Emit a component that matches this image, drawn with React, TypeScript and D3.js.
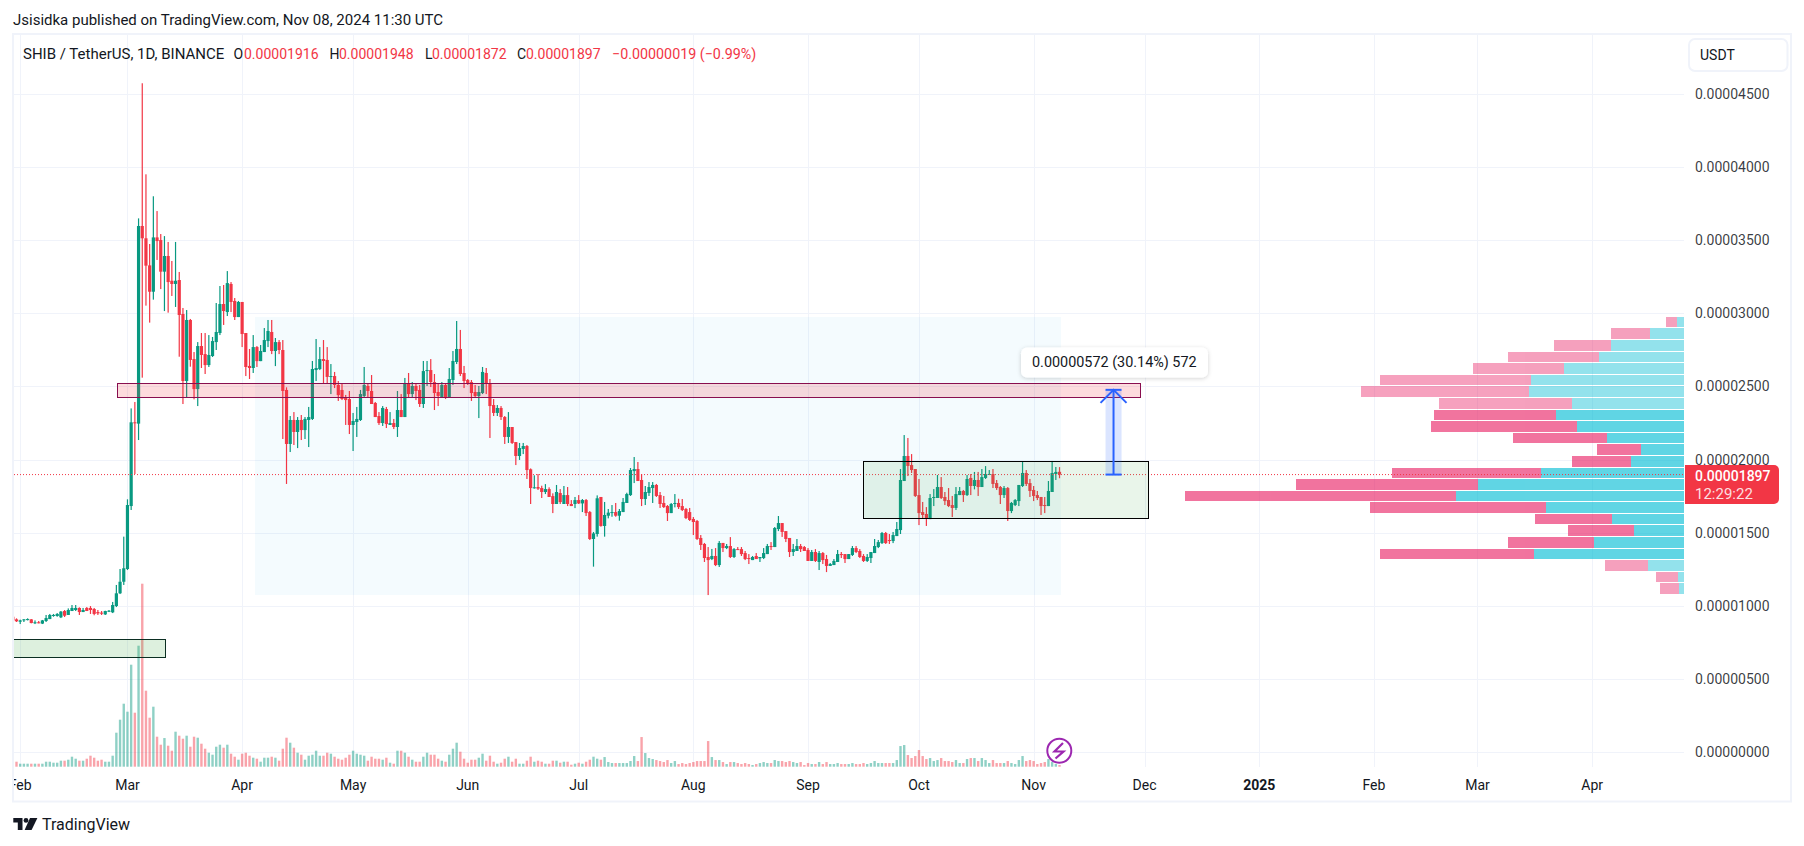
/**
 * SHIB / TetherUS daily chart with volume and a fixed range volume profile.
 * Prices are in units of 0.00000001 USDT.
 */
import * as d3 from "d3";

// ── Data ──────────────────────────────────────────────────────────────────────

// first candle is 30 Jan 2024, one per day up to 8 Nov 2024
const opens = [
  926,908,892,906,906,908,885,888,879,897,910,931,931,922,965,938,965,972,986,958,986,986,979,958,954,942,961,956,999,1086,
  1165,1252,1682,2254,2245,3595,3511,3326,3146,3517,3499,3283,3390,3221,3199,3226,2994,2536,2953,2686,2481,2775,2720,2645,2707,2802,2864,3062,3007,3199,
  3083,2973,3076,2864,2639,2625,2768,2672,2734,2809,2871,2741,2802,2748,2475,2106,2270,2188,2270,2201,2270,2277,2611,2618,2686,2680,2564,2570,2509,2475,
  2427,2413,2236,2256,2270,2434,2502,2468,2386,2297,2249,2345,2236,2249,2222,2338,2290,2516,2447,2502,2475,2379,2604,2611,2529,2461,2427,2509,2427,2543,
  2666,2755,2591,2543,2529,2461,2434,2454,2591,2522,2372,2318,2352,2290,2154,2222,2119,2024,2072,2092,1933,1805,1812,1805,1778,1798,1750,1696,1771,1696,
  1757,1696,1696,1723,1700,1723,1641,1457,1491,1744,1546,1616,1637,1641,1616,1641,1703,1757,1921,1935,1860,1730,1771,1805,1826,1757,1703,1682,1634,1696,
  1703,1682,1662,1641,1594,1580,1464,1423,1334,1320,1341,1279,1430,1395,1409,1334,1388,1388,1361,1327,1313,1341,1325,1327,1354,1409,1402,1525,1566,1511,
  1464,1368,1375,1409,1402,1382,1307,1368,1300,1361,1320,1273,1279,1300,1354,1354,1320,1348,1395,1375,1341,1307,1327,1361,1402,1429,1498,1450,1443,1477,
  1518,1853,2024,1962,1935,1757,1641,1628,1593,1737,1737,1812,1744,1723,1689,1669,1757,1785,1757,1874,1819,1860,1812,1874,1896,1901,1839,1812,1757,1805,
  1648,1689,1716,1819,1908,1839,1792,1757,1744,1689,1682,1778,1901,1916,
];
const highs = [
  945,915,906,910,915,910,901,897,904,938,945,945,951,965,972,983,1006,1006,990,986,992,999,986,972,965,967,972,1027,1143,1252,
  1473,1728,2349,2393,3647,4570,3948,3472,3798,3697,3540,3526,3486,3356,3486,3281,3035,3021,2960,2734,2802,2864,2864,2850,2837,3069,3185,3192,3287,3212,
  3103,3083,3076,2864,2755,2850,2775,2782,2898,2953,2953,2830,2816,2816,2493,2297,2324,2290,2304,2290,2359,2673,2823,2768,2816,2768,2652,2598,2536,2516,
  2441,2468,2318,2359,2475,2632,2522,2577,2393,2324,2365,2359,2324,2277,2468,2447,2557,2591,2529,2516,2509,2673,2673,2686,2584,2516,2529,2516,2625,2741,
  2946,2885,2639,2550,2543,2509,2502,2632,2625,2550,2413,2372,2365,2297,2324,2222,2119,2113,2113,2099,1939,1892,1901,1821,1832,1810,1769,1826,1798,1819,
  1812,1723,1744,1757,1730,1730,1648,1505,1755,1744,1710,1662,1689,1703,1662,1737,1773,1942,2017,1983,1901,1819,1846,1846,1833,1778,1751,1689,1703,1764,
  1732,1730,1669,1669,1607,1587,1484,1430,1402,1389,1395,1443,1430,1423,1470,1395,1402,1402,1375,1354,1341,1361,1334,1395,1423,1436,1539,1614,1566,1511,
  1464,1423,1457,1423,1409,1395,1382,1388,1375,1368,1348,1293,1320,1382,1368,1354,1354,1409,1409,1388,1354,1354,1368,1457,1450,1505,1505,1491,1505,1573,
  1935,2167,2147,2037,1935,1867,1710,1675,1764,1798,1894,1880,1778,1805,1751,1812,1812,1792,1894,1901,1915,1915,1935,1955,1928,1935,1860,1819,1819,1812,
  1710,1730,1826,1987,1928,1867,1819,1785,1744,1744,1853,1990,1949,1948,
];
const lows = [
  897,890,876,890,901,881,876,881,876,890,910,926,926,917,924,938,965,965,938,958,965,945,936,938,938,938,958,951,992,1081,
  1143,1245,1655,1901,2133,2559,3051,2935,3092,3363,3164,3014,3003,3117,3042,2702,2379,2424,2634,2411,2365,2625,2584,2632,2700,2748,2850,2919,2980,3007,
  2953,2973,2768,2570,2550,2591,2632,2672,2734,2768,2720,2638,2720,2140,1833,2051,2099,2078,2133,2140,2085,2270,2536,2611,2522,2522,2447,2488,2400,2406,
  2236,2174,2058,2154,2263,2427,2427,2379,2290,2236,2229,2215,2236,2208,2154,2290,2290,2420,2420,2406,2359,2352,2502,2495,2338,2365,2427,2413,2427,2509,
  2652,2570,2488,2509,2400,2427,2283,2447,2447,2147,2297,2297,2270,2106,2113,2106,1962,1997,2037,1867,1696,1801,1792,1737,1764,1744,1634,1696,1696,1696,
  1682,1682,1668,1696,1641,1614,1450,1268,1473,1541,1473,1598,1609,1609,1582,1641,1703,1751,1839,1853,1682,1689,1751,1703,1744,1669,1669,1580,1634,1673,
  1662,1648,1593,1580,1484,1450,1382,1300,1074,1313,1272,1266,1368,1388,1327,1327,1382,1341,1313,1286,1313,1320,1300,1320,1354,1382,1402,1511,1471,1436,
  1334,1341,1375,1368,1375,1307,1307,1300,1245,1286,1231,1273,1279,1300,1327,1293,1320,1341,1361,1327,1300,1300,1293,1361,1395,1423,1423,1423,1429,1477,
  1491,1853,1887,1908,1744,1552,1600,1546,1593,1682,1737,1730,1689,1675,1607,1655,1757,1710,1751,1757,1796,1751,1812,1867,1894,1805,1792,1696,1737,1580,
  1634,1682,1682,1812,1819,1744,1716,1723,1621,1634,1682,1778,1860,1872,
];
const closes = [
  901,895,901,908,910,883,888,885,901,917,938,938,945,961,933,972,986,986,958,972,965,972,945,949,947,965,967,1006,1086,1165,
  1257,1689,2254,2249,3595,3511,3324,3146,3517,3492,3283,3390,3212,3199,3221,2987,2536,2953,2680,2481,2775,2714,2645,2714,2809,2871,3062,3014,3205,3076,
  2973,3076,2857,2632,2625,2768,2672,2741,2816,2878,2741,2802,2748,2468,2106,2270,2188,2270,2201,2277,2290,2618,2625,2686,2673,2564,2570,2509,2440,2413,
  2406,2236,2263,2277,2447,2509,2468,2379,2290,2249,2352,2242,2249,2222,2338,2290,2516,2447,2502,2468,2379,2604,2611,2529,2454,2434,2509,2427,2550,2673,
  2755,2584,2536,2516,2454,2434,2461,2598,2516,2365,2318,2352,2290,2154,2222,2113,2024,2078,2092,1928,1805,1810,1801,1778,1798,1744,1696,1778,1709,1757,
  1696,1682,1723,1700,1723,1634,1457,1495,1735,1546,1621,1637,1641,1616,1648,1710,1764,1928,1935,1853,1730,1778,1812,1826,1751,1696,1675,1634,1696,1703,
  1675,1655,1600,1587,1573,1457,1416,1327,1313,1341,1279,1430,1395,1409,1334,1388,1382,1354,1320,1323,1334,1320,1334,1361,1409,1402,1532,1566,1505,1457,
  1368,1388,1409,1388,1375,1307,1368,1307,1361,1313,1273,1286,1307,1354,1348,1320,1354,1395,1368,1334,1307,1334,1368,1409,1436,1498,1429,1443,1484,1525,
  1860,2024,1956,1928,1751,1634,1621,1600,1737,1744,1812,1737,1716,1682,1669,1764,1785,1757,1867,1819,1860,1812,1880,1901,1901,1833,1805,1757,1805,1648,
  1703,1723,1826,1908,1833,1785,1751,1737,1682,1682,1785,1908,1915,1897,
];
const volumes = [
  12,15,9,9,9,9,9,9,9,15,15,12,12,18,18,21,30,24,18,18,24,33,27,18,21,15,15,33,102,141,
  189,165,306,162,363,549,228,147,180,90,66,86,63,48,105,93,84,93,60,90,87,69,54,42,36,60,66,57,66,39,
  30,21,39,42,33,27,24,15,27,27,30,27,18,54,87,72,57,42,36,21,33,36,48,33,33,42,39,30,24,21,
  27,36,48,39,36,33,18,30,24,24,21,27,12,9,48,48,42,30,21,15,15,30,42,36,36,24,18,15,36,54,
  72,45,24,12,21,21,27,39,18,33,15,9,12,24,30,15,24,9,9,18,30,15,18,15,9,9,18,18,12,15,
  15,6,9,12,9,15,21,30,24,21,29,14,11,11,11,11,11,17,32,17,89,41,26,23,20,17,14,20,11,17,
  8,11,8,11,14,17,17,17,77,29,20,20,14,8,14,14,11,8,11,8,5,8,11,14,11,11,20,17,17,14,
  17,14,11,14,5,11,8,8,14,8,14,8,8,11,8,8,8,11,8,8,11,8,11,17,11,11,11,11,11,20,
  62,65,35,26,32,50,32,23,26,17,20,26,17,17,14,20,11,11,23,26,26,17,26,20,11,20,11,11,11,17,
  11,8,20,32,17,20,17,8,11,14,23,14,8,5,
];

const priceTicks = [0, 500, 1000, 1500, 2000, 2500, 3000, 3500, 4000, 4500];
const monthTicks = [
  ["2024-02-01", "Feb"], ["2024-03-01", "Mar"], ["2024-04-01", "Apr"], ["2024-05-01", "May"],
  ["2024-06-01", "Jun"], ["2024-07-01", "Jul"], ["2024-08-01", "Aug"], ["2024-09-01", "Sep"],
  ["2024-10-01", "Oct"], ["2024-11-01", "Nov"], ["2024-12-01", "Dec"], ["2025-01-01", "2025"],
  ["2025-02-01", "Feb"], ["2025-03-01", "Mar"], ["2025-04-01", "Apr"],
];

// volume profile rows, top to bottom, between profileTop and profileBottom
const profileTop = 2975;
const profileBottom = 1074;
const profileUp = [16,81,175,203,287,367,371,268,307,256,184,103,127,343,494,546,331,172,120,215,359,86,14,12];
const profileDown = [27,94,136,219,219,362,403,319,292,350,226,105,141,357,436,650,422,185,158,207,370,103,53,45];
const valueArea = [8, 20]; // row indexes drawn darker

const lastPrice = 1897;
const targetPrice = 2469;

// ── Scales ────────────────────────────────────────────────────────────────────

const GREEN = "#089981";
const RED = "#f23645";
const GRID = "#f0f3fa";
const TEXT = "#131722";
const FONT = "Roboto, sans-serif";

const PANE = { left: 14, right: 1684, top: 35, bottom: 767 };

const firstCandle = Date.UTC(2024, 0, 30);
const DAY = 86400000;

const xScale = d3
  .scaleUtc()
  .domain([new Date(Date.UTC(2024, 1, 1)), new Date(Date.UTC(2024, 11, 1))])
  .range([20.2, 1144.6]);
const yScale = d3.scaleLinear().domain([0, 4500]).range([752.3, 93.5]);
const volScale = d3.scaleLinear().domain([0, 549]).range([0, 183]);
const profileScale = d3.scaleLinear().domain([0, 1196]).range([0, 499]);

/** x of a (possibly fractional) day counted from 1 Feb 2024 */
const dayX = (d: number) => xScale(new Date(Date.UTC(2024, 1, 1) + d * DAY));
const fmt = (v: number) => (v / 1e8).toFixed(8);

// ── Small pieces ──────────────────────────────────────────────────────────────

function Candles() {
  return (
    <g>
      {opens.map((o, i) => {
        const c = closes[i];
        const cx = xScale(new Date(firstCandle + i * DAY));
        const colour = c >= o ? GREEN : RED;
        const top = yScale(Math.max(o, c));
        const bot = yScale(Math.min(o, c));
        return (
          <g key={i} fill={colour}>
            <rect x={cx - 0.6} y={yScale(highs[i])} width={1.2} height={yScale(lows[i]) - yScale(highs[i])} />
            <rect x={cx - 1.6} y={top} width={3.2} height={Math.max(1, bot - top)} />
          </g>
        );
      })}
    </g>
  );
}

function VolumeBars() {
  const base = 766.7;
  return (
    <g opacity={0.45}>
      {volumes.map((v, i) => {
        const cx = xScale(new Date(firstCandle + i * DAY));
        const h = volScale(v);
        return (
          <rect
            key={i}
            x={cx - 1.2}
            y={base - h}
            width={2.4}
            height={h}
            fill={closes[i] >= opens[i] ? GREEN : RED}
          />
        );
      })}
    </g>
  );
}

function VolumeProfile() {
  const rowH = (yScale(profileBottom) - yScale(profileTop)) / profileUp.length;
  const rows = profileUp.map((up, i) => {
    const inValue = i >= valueArea[0] && i <= valueArea[1];
    const upW = profileScale(up);
    const downW = profileScale(profileDown[i]);
    const y = yScale(profileTop) + i * rowH;
    return (
      <g key={i} opacity={inValue ? 0.62 : 0.42}>
        <rect x={PANE.right - upW} y={y} width={upW} height={rowH - 1} fill="#00bcd4" />
        <rect x={PANE.right - upW - downW} y={y} width={downW} height={rowH - 1} fill="#e91e63" />
      </g>
    );
  });
  return <g shapeRendering="crispEdges">{rows}</g>;
}

function Box({ d0, d1, p0, p1, fill, stroke }: { d0: number; d1: number; p0: number; p1: number; fill: string; stroke: string }) {
  const x0 = dayX(d0);
  const x1 = dayX(d1);
  return (
    <rect
      x={x0}
      y={yScale(p0)}
      width={x1 - x0}
      height={yScale(p1) - yScale(p0)}
      fill={fill}
      stroke={stroke}
      strokeWidth={1}
      shapeRendering="crispEdges"
    />
  );
}

function PriceRange() {
  const cx = dayX(295.6);
  const x0 = cx - 8;
  const yTop = yScale(targetPrice) - 1;
  const yBot = yScale(lastPrice);
  return (
    <g>
      <rect x={x0} y={yTop} width={16} height={yBot - yTop} fill="#2962ff" opacity={0.17} />
      <line x1={cx} x2={cx} y1={yTop} y2={yBot} stroke="#2962ff" strokeWidth={2} />
      <line x1={x0} x2={x0 + 16} y1={yTop} y2={yTop} stroke="#2962ff" strokeWidth={2} />
      <line x1={x0} x2={x0 + 16} y1={yBot} y2={yBot} stroke="#2962ff" strokeWidth={2} />
      <path d={`M${cx - 13},${yTop + 13}L${cx},${yTop}L${cx + 13},${yTop + 13}`} fill="none" stroke="#2962ff" strokeWidth={2} />
      <g filter="url(#tipShadow)">
        <rect x={1021} y={347.5} width={187} height={30} rx={6} fill="#fff" />
      </g>
      <text x={1032} y={362.5} dominantBaseline="central" fontSize={14.4} fill={TEXT}>
        {`${fmt(targetPrice - lastPrice)} (30.14%) 572`}
      </text>
    </g>
  );
}

function Legend() {
  const y = 53.5;
  return (
    <g fontSize={14} dominantBaseline="central" fill={TEXT}>
      <text x={23} y={y} fontSize={15}>SHIB / TetherUS, 1D, BINANCE</text>
      <text x={233.5} y={y}>O</text>
      <text x={244} y={y} fill={RED}>0.00001916</text>
      <text x={329.5} y={y}>H</text>
      <text x={339} y={y} fill={RED}>0.00001948</text>
      <text x={425} y={y}>L</text>
      <text x={432} y={y} fill={RED}>0.00001872</text>
      <text x={517} y={y}>C</text>
      <text x={526} y={y} fill={RED}>0.00001897</text>
      <text x={612} y={y} fontSize={14.3} fill={RED}>−0.00000019 (−0.99%)</text>
    </g>
  );
}

function Logo() {
  return (
    <g fill={TEXT}>
      <path d="M13.3,818H22.5V830H17.8V822.5H13.3Z" />
      <circle cx={26} cy={820.4} r={2.4} />
      <path d="M30,818H37.4L31.6,830H24.6Z" />
      <text x={42} y={824.5} dominantBaseline="central" fontSize={16}>TradingView</text>
    </g>
  );
}

// ── Component ─────────────────────────────────────────────────────────────────

export default function App() {
  const tickDates = monthTicks.map(([d, label]) => ({ x: xScale(new Date(d)), label }));

  return (
    <svg
      width={1804}
      height={846}
      viewBox="0 0 1804 846"
      fontFamily={FONT}
      style={{ position: "absolute", left: 0, top: 0, background: "#fff" }}
    >
      <defs>
        <clipPath id="pane">
          <rect x={PANE.left} y={PANE.top} width={PANE.right - PANE.left} height={PANE.bottom - PANE.top} />
        </clipPath>
        <clipPath id="timeAxis">
          <rect x={PANE.left} y={PANE.bottom} width={PANE.right - PANE.left} height={34} />
        </clipPath>
        <filter id="tipShadow" x="-10%" y="-30%" width="120%" height="170%">
          <feDropShadow dx={0} dy={1} stdDeviation={2} floodColor="#000" floodOpacity={0.18} />
        </filter>
      </defs>

      <text x={13} y={20} dominantBaseline="central" fontSize={15} fill={TEXT}>
        Jsisidka published on TradingView.com, Nov 08, 2024 11:30 UTC
      </text>

      {/* Grid */}
      <g shapeRendering="crispEdges" stroke={GRID} strokeWidth={1}>
        {tickDates.map((t, i) => (
          <line key={i} x1={Math.round(t.x) + 0.5} x2={Math.round(t.x) + 0.5} y1={PANE.top} y2={PANE.bottom} />
        ))}
        {priceTicks.map((p) => (
          <line key={p} x1={PANE.left} x2={PANE.right} y1={Math.round(yScale(p)) + 0.5} y2={Math.round(yScale(p)) + 0.5} />
        ))}
      </g>

      <g clipPath="url(#pane)">
        <Box d0={63.5} d1={281.3} p0={2975} p1={1074} fill="rgba(33,170,240,0.05)" stroke="none" />
        <VolumeBars />
        <Candles />
        <VolumeProfile />
        <line
          x1={PANE.left}
          x2={PANE.right}
          y1={yScale(lastPrice)}
          y2={yScale(lastPrice)}
          stroke={RED}
          strokeWidth={1}
          strokeDasharray="1 2"
        />
        <Box d0={26.2} d1={302.9} p0={2520} p1={2425} fill="rgba(242,54,69,0.18)" stroke="#880e4f" />
        <Box d0={-10} d1={39.2} p0={772} p1={649} fill="rgba(76,175,80,0.19)" stroke="#0b2e22" />
        <Box d0={227.9} d1={305} p0={1988} p1={1598} fill="rgba(76,175,80,0.12)" stroke="#000" />
        <PriceRange />
        <circle cx={1059.3} cy={750.8} r={12} fill="#fff" stroke="#9c27b0" strokeWidth={2} />
        <path d="M1063,743L1054.5,751.5H1063.5L1055.5,758.5" fill="none" stroke="#9c27b0" strokeWidth={2.2} />
      </g>

      {/* Price axis */}
      <g fontSize={14} fill={TEXT} fillOpacity={0.85} dominantBaseline="central">
        {priceTicks.map((p) => (
          <text key={p} x={1695} y={yScale(p)}>{fmt(p)}</text>
        ))}
      </g>
      <path d="M1685,465H1774a5,5 0 0 1 5,5V499a5,5 0 0 1 -5,5H1685Z" fill={RED} />
      <text x={1695} y={475.5} dominantBaseline="central" fontSize={14} fontWeight={500} fill="#fff">{fmt(lastPrice)}</text>
      <text x={1695} y={494} dominantBaseline="central" fontSize={15} fill="#fff" fillOpacity={0.85}>12:29:22</text>

      {/* Time axis */}
      <g clipPath="url(#timeAxis)" fontSize={14} fill={TEXT} textAnchor="middle" dominantBaseline="central">
        {tickDates.map((t, i) => (
          <text key={i} x={t.x} y={785} fontWeight={t.label === "2025" ? 700 : 400}>{t.label}</text>
        ))}
      </g>

      <Legend />

      {/* Currency button */}
      <rect x={1689} y={39} width={98.5} height={32} rx={6} fill="#fff" stroke={GRID} strokeWidth={2} />
      <text x={1700} y={54.5} dominantBaseline="central" fontSize={14} fill={TEXT}>USDT</text>

      {/* Outer frame */}
      <rect x={13} y={34} width={1778} height={767.5} fill="none" stroke={GRID} strokeWidth={2} />

      <Logo />
    </svg>
  );
}
